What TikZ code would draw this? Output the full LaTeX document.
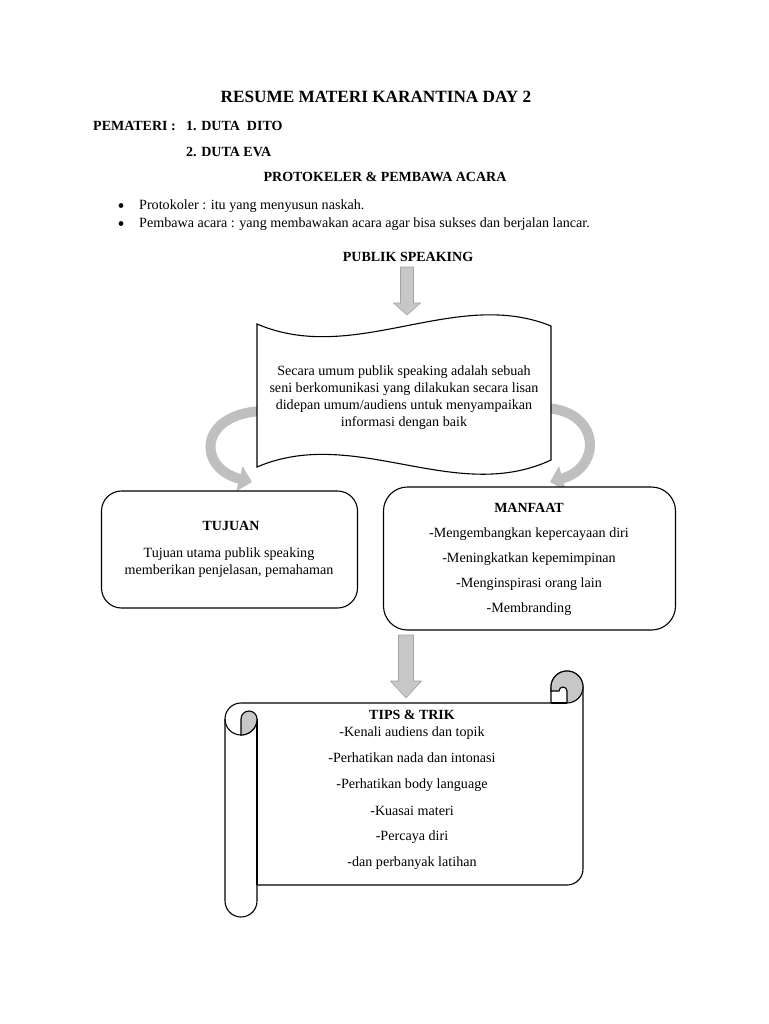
\documentclass[tikz,border=0pt]{standalone}
\usepackage{fontspec}
\setmainfont{Liberation Serif}
\usetikzlibrary{arrows.meta}
\begin{document}
\begin{tikzpicture}[x=1pt,y=-1pt,
  tx/.style={font=\fontsize{14.1}{17}\selectfont, inner sep=0pt, anchor=base},
  hd/.style={font=\fontsize{14}{17}\selectfont\bfseries, inner sep=0pt, anchor=base},
  ttl/.style={font=\fontsize{17.2}{21}\selectfont\bfseries, inner sep=0pt, anchor=base},
  blockarrow/.style={fill=black!22, draw=black!36, line width=0.6pt},
  curvearrow/.style={draw=black!25, line width=10pt, -{Triangle[length=13pt,width=25pt]}},
  shape line/.style={draw=black, line width=1.1pt},
  roundbox/.style={shape line, fill=white, rectangle, inner sep=0pt}
]
\useasboundingbox (0,0) rectangle (768,1024);
\fill[white] (0,0) rectangle (768,1024);

% header texts
\node[ttl] (title) at (376,103) {RESUME MATERI KARANTINA DAY 2};
\node[hd, anchor=base west] (pem) at (93,131) {PEMATERI :};
\node[hd, anchor=base west] (p1) at (186,131) {1. DUTA\ \ DITO};
\node[hd, anchor=base west] (p2) at (186,157) {2. DUTA EVA};
\node[hd] (prot) at (385,182) {PROTOKELER \& PEMBAWA ACARA};
\fill (121,205.5) circle (2.4);
\node[tx, anchor=base west] (b1) at (139,210) {Protokoler : itu yang menyusun naskah.};
\fill (121,223.5) circle (2.4);
\node[tx, anchor=base west] (b2) at (139,228) {Pembawa acara : yang membawakan acara agar bisa sukses dan berjalan lancar.};
\node[hd] (publik) at (408,261) {PUBLIK SPEAKING};

% down arrow 1
\draw[blockarrow] (400.5,267) -- (413.5,267) -- (413.5,303) -- (420.5,303) -- (407,315) -- (393.5,303) -- (400.5,303) -- cycle;

% curved arrows
\coordinate (wl) at (262,411);
\coordinate (wr) at (546,408);
\coordinate (tl) at (252,482);
\coordinate (tr) at (550,482);
\draw[curvearrow] (wl) .. controls (198,414) and (197,468) .. (tl);
\draw[curvearrow] (wr) .. controls (600,411) and (603,467) .. (tr);

% wavy box
\draw[shape line, fill=white] (257,324) .. controls (355,366) and (455,287) .. (551,326)
  -- (551,460) .. controls (455,505) and (355,425) .. (257,467) -- cycle;
\node[tx] (w1) at (404,375) {Secara umum publik speaking adalah sebuah};
\node[tx] (w2) at (404,392) {seni berkomunikasi yang dilakukan secara lisan};
\node[tx] (w3) at (404,409) {didepan umum/audiens untuk menyampaikan};
\node[tx] (w4) at (404,426) {informasi dengan baik};

% TUJUAN box
\node[roundbox, rounded corners=20pt, minimum width=256pt, minimum height=117pt] (tujuan) at (229.5,549.5) {};
\node[hd] (tj0) at (231,530) {TUJUAN};
\node[tx] (tj1) at (229,557) {Tujuan utama publik speaking};
\node[tx] (tj2) at (229,574) {memberikan penjelasan, pemahaman};

% MANFAAT box
\node[roundbox, rounded corners=24pt, minimum width=292pt, minimum height=143pt] (manfaat) at (529.5,558.5) {};
\node[hd] (m0) at (529,512) {MANFAAT};
\node[tx] (m1) at (529,537) {-Mengembangkan kepercayaan diri};
\node[tx] (m2) at (529,562) {-Meningkatkan kepemimpinan};
\node[tx] (m3) at (529,587) {-Menginspirasi orang lain};
\node[tx] (m4) at (529,612) {-Membranding};

% down arrow 2
\draw[blockarrow] (398.5,635) -- (413.5,635) -- (413.5,681) -- (421.5,681) -- (406,698) -- (390.5,681) -- (398.5,681) -- cycle;

% scroll
\draw[shape line, fill=white] (583,687) arc[start angle=0, end angle=-180, radius=16]
  -- (551,703) -- (241,703)
  arc[start angle=270, end angle=180, radius=16]
  -- (225,901)
  arc[start angle=180, end angle=0, radius=16]
  -- (257,885) -- (567,885)
  arc[start angle=90, end angle=0, radius=16]
  -- cycle;
% left curl
\draw[shape line] (225,719) arc[start angle=180, end angle=0, radius=16];
\draw[shape line] (257,719) -- (257,885);
\filldraw[shape line, fill=black!22] (241,719) arc[start angle=180, end angle=360, radius=8]
  arc[start angle=0, end angle=90, radius=16] -- cycle;
% right curl
\filldraw[shape line, fill=black!22] (551,687) arc[start angle=180, end angle=360, radius=16]
  arc[start angle=0, end angle=90, radius=16] -- (567,691)
  arc[start angle=0, end angle=-180, radius=4] -- (551,691) -- cycle;
\draw[shape line] (551,703) -- (567,703);

\node[hd] (t0) at (412,719) {TIPS \& TRIK};
\node[tx] (t1) at (412,736) {-Kenali audiens dan topik};
\node[tx] (t2) at (412,762) {-Perhatikan nada dan intonasi};
\node[tx] (t3) at (412,788) {-Perhatikan body language};
\node[tx] (t4) at (412,815) {-Kuasai materi};
\node[tx] (t5) at (412,840) {-Percaya diri};
\node[tx] (t6) at (412,866) {-dan perbanyak latihan};
\end{tikzpicture}
\end{document}
